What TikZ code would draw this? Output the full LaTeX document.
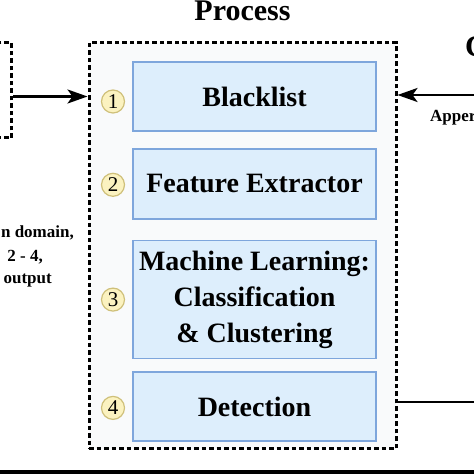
\documentclass[tikz,border=0pt]{standalone}
\usepackage{fontspec}
\setmainfont{Liberation Serif}
\usetikzlibrary{arrows.meta}
\usetikzlibrary{positioning}
\definecolor{boxfill}{HTML}{DDEEFC}
\definecolor{boxline}{HTML}{7EA6DC}
\definecolor{numfill}{HTML}{FBF2C0}
\definecolor{numline}{HTML}{CFC07A}
\definecolor{procfill}{HTML}{F9FAFB}
\tikzstyle{block} = [rectangle, draw=boxline, fill=boxfill, line width=1.8pt,
    text centered, align=center, minimum width=243pt,
    font=\fontsize{28}{36}\selectfont\bfseries]
\tikzstyle{num} = [circle, draw=numline, fill=numfill, line width=1.2pt,
    minimum size=23pt, inner sep=0pt, font=\fontsize{21}{21}\selectfont]
\tikzstyle{dashbox} = [rectangle, draw, line width=3pt, dash pattern=on 4.5pt off 3pt]
\tikzstyle{heading} = [font=\fontsize{30}{30}\selectfont\bfseries, inner sep=0pt]
\tikzstyle{note} = [font=\fontsize{17}{20}\selectfont\bfseries, inner sep=0pt]
\tikzstyle{arrow} = [line width=2.6pt,->,>={Stealth[length=20pt,width=14pt,inset=5pt]}]

\begin{document}
\begin{tikzpicture}[x=1pt, y=1pt, node distance=16pt]
    \useasboundingbox (0,0) rectangle (474,474);
    \clip (0,0) rectangle (474,474);
    \fill [white] (0,0) rectangle (474,474);
    % Place nodes
    \node [dashbox, fill=procfill, minimum width=307pt, minimum height=406pt] (process) at (242.5,228) {};
    \node [heading, anchor=base] (title) at ([yshift=21pt]process.north) {Process};
    \node [block, minimum height=69pt] (blacklist) at (254.5,377.5) {Blacklist};
    \node [block, minimum height=70pt, below=16pt of blacklist] (extractor) {Feature Extractor};
    \node [block, minimum height=118pt, below=20pt of extractor] (learning) {Machine Learning:\\Classification\\\& Clustering};
    \node [block, minimum height=69pt, below=12pt of learning] (detection) {Detection};
    \node [num, left=7pt of blacklist, yshift=-5pt] (n1) {1};
    \node [num, left=7pt of extractor, yshift=-1pt] (n2) {2};
    \node [num, left=7pt of learning] (n3) {3};
    \node [num, left=7pt of detection, yshift=-1pt] (n4) {4};
    \node [dashbox, minimum width=120pt, minimum height=95pt, anchor=east] (input) at (13,383.5) {};
    \node [note, anchor=base east] (in1) at (74,236) {n domain,};
    \node [note, anchor=base east] (in2) at (43,212) {2 - 4,};
    \node [note, anchor=base east] (in3) at (52,190) {output};
    \node [heading, anchor=base west] (output) at (465,417) {C};
    \node [note, anchor=base west] (append) at (430,352) {Apper};
    \coordinate (outin) at (474,379);
    \coordinate (outret) at (474,72);
    \coordinate (botl) at (0,2);
    \coordinate (botr) at (474,2);

    % Draw edges
    \draw [arrow] (input.east |- blacklist) -- (process.west |- blacklist);
    \draw [arrow] (outin) -- (process.east |- outin);
    \draw [line width=2.4pt] (process.east |- outret) -- (outret);
    \draw [line width=3.2pt] (botl) -- (botr);
\end{tikzpicture}
\end{document}
